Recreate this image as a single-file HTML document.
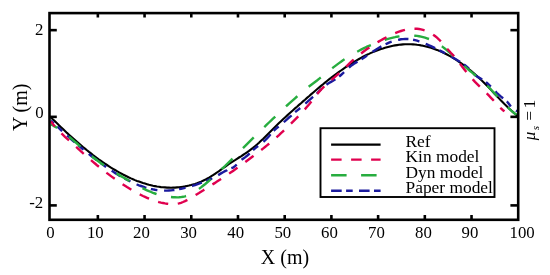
<!DOCTYPE html>
<html><head><meta charset="utf-8"><title>Trajectory comparison</title>
<style>html,body{margin:0;padding:0;background:#fff;}svg{display:block;}text{font-family:"Liberation Serif","Times New Roman",serif;fill:#000;}</style>
</head><body>
<svg width="550" height="275" viewBox="0 0 550 275">
<path d="M51.0,117.4 L53.0,119.4 L55.0,121.3 L57.0,123.3 L59.0,125.3 L61.0,127.2 L63.0,129.1 L65.0,131.0 L67.0,132.9 L69.0,134.7 L71.0,136.5 L73.0,138.3 L75.0,140.1 L77.0,141.9 L79.0,143.6 L81.0,145.3 L83.0,147.0 L85.0,148.6 L87.0,150.3 L89.0,151.9 L91.0,153.4 L93.0,155.0 L95.0,156.5 L97.0,158.0 L99.0,159.5 L101.0,160.9 L103.0,162.3 L105.0,163.7 L107.0,165.0 L109.0,166.3 L111.0,167.6 L113.0,168.8 L115.0,170.0 L117.0,171.2 L119.0,172.3 L121.0,173.4 L123.0,174.5 L125.0,175.5 L127.0,176.5 L129.0,177.5 L131.0,178.4 L133.0,179.2 L135.0,180.1 L137.0,180.9 L139.0,181.6 L141.0,182.3 L143.0,183.0 L145.0,183.6 L147.0,184.2 L149.0,184.8 L151.0,185.2 L153.0,185.7 L155.0,186.1 L157.0,186.5 L159.0,186.8 L161.0,187.1 L163.0,187.3 L165.0,187.4 L167.0,187.6 L169.0,187.6 L171.0,187.7 L173.0,187.6 L175.0,187.6 L177.0,187.4 L179.0,187.3 L181.0,187.0 L183.0,186.7 L185.0,186.4 L187.0,186.0 L189.0,185.6 L191.0,185.1 L193.0,184.5 L195.0,183.9 L197.0,183.2 L199.0,182.4 L201.0,181.6 L203.0,180.7 L205.0,179.8 L207.0,178.7 L209.0,177.6 L211.0,176.4 L213.0,175.2 L215.0,173.8 L217.0,172.5 L219.0,171.1 L221.0,169.6 L223.0,168.2 L225.0,166.8 L227.0,165.4 L229.0,164.0 L231.0,162.6 L233.0,161.3 L235.0,160.1 L237.0,158.8 L239.0,157.5 L241.0,156.3 L243.0,155.0 L245.0,153.7 L247.0,152.3 L249.0,150.9 L251.0,149.4 L253.0,147.9 L255.0,146.2 L257.0,144.5 L259.0,142.7 L261.0,140.8 L263.0,138.9 L265.0,136.9 L267.0,134.9 L269.0,132.9 L271.0,130.9 L273.0,128.9 L275.0,126.9 L277.0,125.0 L279.0,123.1 L281.0,121.2 L283.0,119.3 L285.0,117.4 L287.0,115.6 L289.0,113.8 L291.0,112.0 L293.0,110.2 L295.0,108.4 L297.0,106.7 L299.0,104.9 L301.0,103.2 L303.0,101.4 L305.0,99.7 L307.0,97.9 L309.0,96.2 L311.0,94.4 L313.0,92.7 L315.0,91.0 L317.0,89.3 L319.0,87.6 L321.0,85.9 L323.0,84.3 L325.0,82.6 L327.0,81.0 L329.0,79.4 L331.0,77.9 L333.0,76.3 L335.0,74.8 L337.0,73.3 L339.0,71.9 L341.0,70.5 L343.0,69.1 L345.0,67.7 L347.0,66.4 L349.0,65.0 L351.0,63.8 L353.0,62.5 L355.0,61.3 L357.0,60.1 L359.0,59.0 L361.0,57.9 L363.0,56.8 L365.0,55.8 L367.0,54.8 L369.0,53.9 L371.0,52.9 L373.0,52.1 L375.0,51.2 L377.0,50.5 L379.0,49.7 L381.0,49.0 L383.0,48.4 L385.0,47.7 L387.0,47.2 L389.0,46.7 L391.0,46.2 L393.0,45.8 L395.0,45.4 L397.0,45.1 L399.0,44.8 L401.0,44.6 L403.0,44.4 L405.0,44.3 L407.0,44.2 L409.0,44.2 L411.0,44.3 L413.0,44.4 L415.0,44.5 L417.0,44.8 L419.0,45.0 L421.0,45.4 L423.0,45.7 L425.0,46.2 L427.0,46.7 L429.0,47.2 L431.0,47.8 L433.0,48.5 L435.0,49.2 L437.0,49.9 L439.0,50.8 L441.0,51.6 L443.0,52.5 L445.0,53.5 L447.0,54.5 L449.0,55.6 L451.0,56.7 L453.0,57.9 L455.0,59.2 L457.0,60.4 L459.0,61.8 L461.0,63.2 L463.0,64.6 L465.0,66.1 L467.0,67.6 L469.0,69.2 L471.0,70.9 L473.0,72.6 L475.0,74.3 L477.0,76.1 L479.0,77.9 L481.0,79.8 L483.0,81.8 L485.0,83.8 L487.0,85.8 L489.0,87.8 L491.0,89.9 L493.0,92.1 L495.0,94.2 L497.0,96.3 L499.0,98.4 L501.0,100.5 L503.0,102.5 L505.0,104.6 L507.0,106.5 L509.0,108.5 L511.0,110.3 L513.0,112.1 L515.0,113.8 L517.0,115.4 L518.0,116.2" fill="none" stroke="#000" stroke-width="2.1"/>
<path d="M51.0,120.6 L53.0,122.5 L55.0,124.4 L57.0,126.3 L59.0,128.2 L61.0,130.0 L63.0,131.8 L65.0,133.7 L67.0,135.5 L69.0,137.2 L71.0,139.0 L73.0,140.8 L75.0,142.5 L77.0,144.2 L79.0,145.9 L81.0,147.6 L83.0,149.2 L85.0,150.9 L87.0,152.5 L89.0,154.1 L91.0,155.7 L93.0,157.3 L95.0,158.8 L97.0,160.3 L99.0,161.8 L101.0,163.3 L103.0,164.8 L105.0,166.2 L107.0,167.6 L109.0,169.0 L111.0,170.3 L113.0,171.6 L115.0,172.9 L117.0,174.1 L119.0,175.4 L121.0,176.5 L123.0,177.7 L125.0,178.8 L127.0,179.8 L129.0,180.8 L131.0,181.8 L133.0,182.7 L135.0,183.6 L137.0,184.5 L139.0,185.3 L141.0,186.0 L143.0,186.7 L145.0,187.4 L147.0,188.0 L149.0,188.5 L151.0,189.0 L153.0,189.4 L155.0,189.8 L157.0,190.1 L159.0,190.3 L161.0,190.5 L163.0,190.6 L165.0,190.6 L167.0,190.6 L169.0,190.5 L171.0,190.4 L173.0,190.1 L175.0,189.9 L177.0,189.6 L179.0,189.2 L181.0,188.8 L183.0,188.3 L185.0,187.9 L187.0,187.4 L189.0,186.8 L191.0,186.3 L193.0,185.7 L195.0,185.1 L197.0,184.4 L199.0,183.7 L201.0,183.0 L203.0,182.2 L205.0,181.4 L207.0,180.6 L209.0,179.7 L211.0,178.8 L213.0,177.9 L215.0,176.9 L217.0,175.8 L219.0,174.6 L221.0,173.4 L223.0,172.2 L225.0,171.2 L227.0,170.3 L229.0,168.6 L231.0,168.2 L233.0,167.6 L235.0,166.2 L237.0,164.2 L239.0,162.1 L241.0,160.2 L243.0,158.8 L245.0,157.4 L247.0,155.8 L249.0,154.0 L251.0,152.1 L253.0,150.2 L255.0,148.4 L257.0,146.8 L259.0,145.3 L261.0,143.7 L263.0,142.1 L265.0,140.4 L267.0,138.4 L269.0,136.2 L271.0,133.7 L273.0,131.3 L275.0,129.5 L277.0,127.9 L279.0,126.2 L281.0,124.6 L283.0,122.8 L285.0,121.1 L287.0,119.3 L289.0,117.5 L291.0,115.8 L293.0,114.0 L295.0,112.3 L297.0,110.6 L299.0,109.0 L301.0,107.3 L303.0,105.6 L305.0,103.9 L307.0,102.2 L309.0,100.4 L311.0,98.6 L313.0,96.8 L315.0,95.1 L317.0,93.3 L319.0,91.4 L321.0,89.5 L323.0,87.7 L325.0,85.9 L327.0,84.3 L329.0,83.0 L331.0,81.9 L333.0,80.8 L335.0,79.6 L337.0,78.3 L339.0,76.8 L341.0,75.0 L343.0,73.2 L345.0,71.2 L347.0,69.3 L349.0,67.5 L351.0,65.8 L353.0,64.4 L355.0,63.1 L357.0,61.9 L359.0,60.7 L361.0,59.5 L363.0,58.2 L365.0,56.9 L367.0,55.6 L369.0,54.3 L371.0,52.9 L373.0,51.6 L375.0,50.3 L377.0,49.0 L379.0,47.8 L381.0,46.6 L383.0,45.5 L385.0,44.5 L387.0,43.6 L389.0,42.7 L391.0,41.9 L393.0,41.2 L395.0,40.6 L397.0,40.1 L399.0,39.7 L401.0,39.3 L403.0,39.1 L405.0,39.0 L407.0,39.0 L409.0,39.1 L411.0,39.3 L413.0,39.7 L415.0,40.1 L417.0,40.6 L419.0,41.3 L421.0,41.9 L423.0,42.7 L425.0,43.5 L427.0,44.4 L429.0,45.3 L431.0,46.2 L433.0,47.1 L435.0,48.1 L437.0,49.1 L439.0,50.1 L441.0,51.1 L443.0,52.1 L445.0,53.2 L447.0,54.3 L449.0,55.4 L451.0,56.5 L453.0,57.6 L455.0,58.8 L457.0,60.0 L459.0,61.2 L461.0,62.5 L463.0,63.8 L465.0,65.3 L467.0,67.0 L469.0,68.8 L471.0,70.9 L473.0,73.0 L475.0,75.0 L477.0,76.5 L479.0,77.6 L481.0,78.7 L483.0,79.9 L485.0,81.3 L487.0,83.0 L489.0,84.8 L491.0,86.8 L493.0,88.9 L495.0,91.0 L497.0,93.0 L499.0,94.9 L501.0,96.7 L503.0,98.3 L505.0,99.8 L507.0,101.5 L509.0,104.0 L511.0,106.8 L513.0,109.2 L515.0,110.3 L517.0,111.2 L517.2,111.6" fill="none" stroke="#1a1a9e" stroke-width="2.4" stroke-dasharray="10.4 4.7 6.6 6.7" stroke-dashoffset="6.4"/>
<path d="M51.0,124.4 L53.0,125.4 L55.0,126.6 L57.0,127.8 L59.0,129.1 L61.0,130.5 L63.0,132.0 L65.0,133.5 L67.0,135.1 L69.0,136.7 L71.0,138.4 L73.0,140.1 L75.0,141.8 L77.0,143.5 L79.0,145.3 L81.0,147.0 L83.0,148.8 L85.0,150.5 L87.0,152.2 L89.0,153.9 L91.0,155.6 L93.0,157.2 L95.0,158.7 L97.0,160.2 L99.0,161.7 L101.0,163.2 L103.0,164.6 L105.0,165.9 L107.0,167.3 L109.0,168.6 L111.0,169.9 L113.0,171.2 L115.0,172.4 L117.0,173.6 L119.0,174.9 L121.0,176.1 L123.0,177.3 L125.0,178.4 L127.0,179.6 L129.0,180.8 L131.0,182.0 L133.0,183.1 L135.0,184.2 L137.0,185.3 L139.0,186.4 L141.0,187.4 L143.0,188.4 L145.0,189.4 L147.0,190.3 L149.0,191.2 L151.0,192.0 L153.0,192.8 L155.0,193.5 L157.0,194.2 L159.0,194.7 L161.0,195.3 L163.0,195.7 L165.0,196.1 L167.0,196.5 L169.0,196.8 L171.0,197.0 L173.0,197.2 L175.0,197.3 L177.0,197.4 L179.0,197.3 L181.0,197.1 L183.0,196.8 L185.0,196.3 L187.0,195.7 L189.0,194.9 L191.0,193.9 L193.0,192.8 L195.0,191.6 L197.0,190.3 L199.0,188.9 L201.0,187.4 L203.0,185.8 L205.0,184.2 L207.0,182.5 L209.0,180.8 L211.0,179.0 L213.0,177.2 L215.0,175.4 L217.0,173.5 L219.0,171.7 L221.0,169.8 L223.0,167.9 L225.0,166.0 L227.0,164.0 L229.0,162.1 L231.0,160.2 L233.0,158.2 L235.0,156.2 L237.0,154.2 L239.0,152.3 L241.0,150.2 L243.0,148.2 L245.0,146.2 L247.0,144.2 L249.0,142.2 L251.0,140.2 L253.0,138.2 L255.0,136.2 L257.0,134.2 L259.0,132.2 L261.0,130.3 L263.0,128.3 L265.0,126.4 L267.0,124.4 L269.0,122.5 L271.0,120.6 L273.0,118.7 L275.0,116.8 L277.0,114.9 L279.0,113.0 L281.0,111.1 L283.0,109.3 L285.0,107.4 L287.0,105.5 L289.0,103.7 L291.0,101.9 L293.0,100.1 L295.0,98.3 L297.0,96.5 L299.0,94.7 L301.0,93.0 L303.0,91.3 L305.0,89.7 L307.0,88.1 L309.0,86.5 L311.0,85.0 L313.0,83.5 L315.0,82.0 L317.0,80.5 L319.0,78.9 L321.0,77.4 L323.0,75.7 L325.0,74.1 L327.0,72.4 L329.0,70.8 L331.0,69.2 L333.0,67.6 L335.0,66.1 L337.0,64.6 L339.0,63.1 L341.0,61.7 L343.0,60.3 L345.0,59.0 L347.0,57.7 L349.0,56.4 L351.0,55.2 L353.0,54.0 L355.0,52.9 L357.0,51.8 L359.0,50.7 L361.0,49.6 L363.0,48.6 L365.0,47.7 L367.0,46.7 L369.0,45.8 L371.0,45.0 L373.0,44.1 L375.0,43.3 L377.0,42.6 L379.0,41.8 L381.0,41.1 L383.0,40.5 L385.0,39.8 L387.0,39.2 L389.0,38.6 L391.0,38.1 L393.0,37.6 L395.0,37.2 L397.0,36.7 L399.0,36.4 L401.0,36.1 L403.0,35.8 L405.0,35.6 L407.0,35.5 L409.0,35.4 L411.0,35.4 L413.0,35.5 L415.0,35.7 L417.0,35.9 L419.0,36.2 L421.0,36.6 L423.0,37.1 L425.0,37.6 L427.0,38.3 L429.0,39.0 L431.0,39.9 L433.0,40.8 L435.0,41.9 L437.0,43.1 L439.0,44.3 L441.0,45.7 L443.0,47.1 L445.0,48.7 L447.0,50.4 L449.0,52.1 L451.0,53.9 L453.0,55.7 L455.0,57.6 L457.0,59.4 L459.0,61.3 L461.0,63.1 L463.0,65.0 L465.0,66.7 L467.0,68.4 L469.0,70.1 L471.0,71.7 L473.0,73.4 L475.0,75.0 L477.0,76.6 L479.0,78.3 L481.0,80.0 L483.0,81.8 L485.0,83.6 L487.0,85.5 L489.0,87.5 L491.0,89.5 L493.0,91.7 L495.0,93.8 L497.0,96.0 L499.0,98.2 L501.0,100.3 L503.0,102.5 L505.0,104.6 L507.0,106.6 L509.0,108.5 L511.0,110.4 L513.0,112.1 L515.0,113.7 L516.5,114.8" fill="none" stroke="#27ad3f" stroke-width="2.4" stroke-dasharray="15.2 14.8" stroke-dashoffset="8.1"/>
<path d="M51.0,121.5 L53.0,124.2 L55.0,126.6 L57.0,128.9 L59.0,131.0 L61.0,133.0 L63.0,134.9 L65.0,136.8 L67.0,138.6 L69.0,140.4 L71.0,142.2 L73.0,144.0 L75.0,145.9 L77.0,147.7 L79.0,149.5 L81.0,151.4 L83.0,153.2 L85.0,154.9 L87.0,156.7 L89.0,158.4 L91.0,160.1 L93.0,161.8 L95.0,163.5 L97.0,165.2 L99.0,166.8 L101.0,168.4 L103.0,170.0 L105.0,171.5 L107.0,173.1 L109.0,174.6 L111.0,176.1 L113.0,177.6 L115.0,179.0 L117.0,180.4 L119.0,181.8 L121.0,183.2 L123.0,184.5 L125.0,185.8 L127.0,187.1 L129.0,188.3 L131.0,189.5 L133.0,190.7 L135.0,191.8 L137.0,192.9 L139.0,194.0 L141.0,195.0 L143.0,196.0 L145.0,196.9 L147.0,197.8 L149.0,198.7 L151.0,199.5 L153.0,200.2 L155.0,200.9 L157.0,201.5 L159.0,202.1 L161.0,202.6 L163.0,203.0 L165.0,203.4 L167.0,203.7 L169.0,204.0 L171.0,204.1 L173.0,204.2 L175.0,204.1 L177.0,203.8 L179.0,203.4 L181.0,202.8 L183.0,202.0 L185.0,201.1 L187.0,200.1 L189.0,199.0 L191.0,197.9 L193.0,196.7 L195.0,195.5 L197.0,194.2 L199.0,193.0 L201.0,191.7 L203.0,190.5 L205.0,189.2 L207.0,187.9 L209.0,186.7 L211.0,185.4 L213.0,184.1 L215.0,182.9 L217.0,181.6 L219.0,180.3 L221.0,179.0 L223.0,177.7 L225.0,176.4 L227.0,175.0 L229.0,173.7 L231.0,172.3 L233.0,170.9 L235.0,169.5 L237.0,168.1 L239.0,166.7 L241.0,165.2 L243.0,163.8 L245.0,162.3 L247.0,160.8 L249.0,159.3 L251.0,157.8 L253.0,156.3 L255.0,154.8 L257.0,153.2 L259.0,151.7 L261.0,150.2 L263.0,148.6 L265.0,147.0 L267.0,145.4 L269.0,143.8 L271.0,142.2 L273.0,140.4 L275.0,138.7 L277.0,136.9 L279.0,135.1 L281.0,133.2 L283.0,131.3 L285.0,129.4 L287.0,127.5 L289.0,125.6 L291.0,123.7 L293.0,121.7 L295.0,119.7 L297.0,117.7 L299.0,115.7 L301.0,113.5 L303.0,111.4 L305.0,109.1 L307.0,106.8 L309.0,104.5 L311.0,102.0 L313.0,99.4 L315.0,96.8 L317.0,94.2 L319.0,91.9 L321.0,89.7 L323.0,87.6 L325.0,85.7 L327.0,83.8 L329.0,82.1 L331.0,80.3 L333.0,78.6 L335.0,76.9 L337.0,75.2 L339.0,73.4 L341.0,71.6 L343.0,69.7 L345.0,67.8 L347.0,65.8 L349.0,63.9 L351.0,62.0 L353.0,60.2 L355.0,58.5 L357.0,56.8 L359.0,55.1 L361.0,53.6 L363.0,52.0 L365.0,50.5 L367.0,49.1 L369.0,47.7 L371.0,46.4 L373.0,45.1 L375.0,43.8 L377.0,42.6 L379.0,41.4 L381.0,40.2 L383.0,39.1 L385.0,38.0 L387.0,37.0 L389.0,36.0 L391.0,35.0 L393.0,34.1 L395.0,33.2 L397.0,32.4 L399.0,31.7 L401.0,31.0 L403.0,30.4 L405.0,29.8 L407.0,29.4 L409.0,29.1 L411.0,28.8 L413.0,28.7 L415.0,28.7 L417.0,28.8 L419.0,29.0 L421.0,29.4 L423.0,29.9 L425.0,30.5 L427.0,31.3 L429.0,32.2 L431.0,33.3 L433.0,34.6 L435.0,36.0 L437.0,37.7 L439.0,39.5 L441.0,41.6 L443.0,43.9 L445.0,46.3 L447.0,48.6 L449.0,50.8 L451.0,53.0 L453.0,55.1 L455.0,57.4 L457.0,59.9 L459.0,62.4 L461.0,65.1 L463.0,67.7 L465.0,70.3 L467.0,72.8 L469.0,75.2 L471.0,77.4 L473.0,79.6 L475.0,81.8 L477.0,83.8 L479.0,85.8 L481.0,87.8 L483.0,89.8 L485.0,91.8 L487.0,93.7 L489.0,95.7 L491.0,97.8 L493.0,99.9 L495.0,102.0 L497.0,104.2 L499.0,106.4 L501.0,108.4 L503.0,110.2 L504.5,111.3" fill="none" stroke="#e0004e" stroke-width="2.4" stroke-dasharray="10.3 9.6" stroke-dashoffset="4.0"/>
<rect x="49.5" y="13.1" width="468.70000000000005" height="206.70000000000002" fill="none" stroke="#000" stroke-width="2.6"/>
<line x1="97.85" y1="219.8" x2="97.85" y2="215" stroke="#000" stroke-width="2.6"/>
<line x1="97.85" y1="13.1" x2="97.85" y2="17.5" stroke="#000" stroke-width="2.6"/>
<line x1="144.56" y1="219.8" x2="144.56" y2="215" stroke="#000" stroke-width="2.6"/>
<line x1="144.56" y1="13.1" x2="144.56" y2="17.5" stroke="#000" stroke-width="2.6"/>
<line x1="191.27" y1="219.8" x2="191.27" y2="215" stroke="#000" stroke-width="2.6"/>
<line x1="191.27" y1="13.1" x2="191.27" y2="17.5" stroke="#000" stroke-width="2.6"/>
<line x1="237.98" y1="219.8" x2="237.98" y2="215" stroke="#000" stroke-width="2.6"/>
<line x1="237.98" y1="13.1" x2="237.98" y2="17.5" stroke="#000" stroke-width="2.6"/>
<line x1="284.69" y1="219.8" x2="284.69" y2="215" stroke="#000" stroke-width="2.6"/>
<line x1="284.69" y1="13.1" x2="284.69" y2="17.5" stroke="#000" stroke-width="2.6"/>
<line x1="331.40" y1="219.8" x2="331.40" y2="215" stroke="#000" stroke-width="2.6"/>
<line x1="331.40" y1="13.1" x2="331.40" y2="17.5" stroke="#000" stroke-width="2.6"/>
<line x1="378.11" y1="219.8" x2="378.11" y2="215" stroke="#000" stroke-width="2.6"/>
<line x1="378.11" y1="13.1" x2="378.11" y2="17.5" stroke="#000" stroke-width="2.6"/>
<line x1="424.82" y1="219.8" x2="424.82" y2="215" stroke="#000" stroke-width="2.6"/>
<line x1="424.82" y1="13.1" x2="424.82" y2="17.5" stroke="#000" stroke-width="2.6"/>
<line x1="471.53" y1="219.8" x2="471.53" y2="215" stroke="#000" stroke-width="2.6"/>
<line x1="471.53" y1="13.1" x2="471.53" y2="17.5" stroke="#000" stroke-width="2.6"/>
<line x1="49.5" y1="30.15" x2="56.8" y2="30.15" stroke="#000" stroke-width="2.6"/>
<line x1="518.2" y1="30.15" x2="510.4" y2="30.15" stroke="#000" stroke-width="2.6"/>
<line x1="49.5" y1="116.85" x2="56.8" y2="116.85" stroke="#000" stroke-width="2.6"/>
<line x1="518.2" y1="116.85" x2="510.4" y2="116.85" stroke="#000" stroke-width="2.6"/>
<line x1="49.5" y1="205.4" x2="56.8" y2="205.4" stroke="#000" stroke-width="2.6"/>
<line x1="518.2" y1="205.4" x2="510.4" y2="205.4" stroke="#000" stroke-width="2.6"/>
<text x="50.45" y="238"  font-size="16.8" text-anchor="middle">0</text>
<text x="95.35" y="238"  font-size="16.8" text-anchor="middle">10</text>
<text x="141.40" y="238"  font-size="16.8" text-anchor="middle">20</text>
<text x="188.60" y="238"  font-size="16.8" text-anchor="middle">30</text>
<text x="235.65" y="238"  font-size="16.8" text-anchor="middle">40</text>
<text x="282.80" y="238"  font-size="16.8" text-anchor="middle">50</text>
<text x="329.40" y="238"  font-size="16.8" text-anchor="middle">60</text>
<text x="376.50" y="238"  font-size="16.8" text-anchor="middle">70</text>
<text x="423.40" y="238"  font-size="16.8" text-anchor="middle">80</text>
<text x="470.00" y="238"  font-size="16.8" text-anchor="middle">90</text>
<text x="522.10" y="238"  font-size="16.8" text-anchor="middle">100</text>
<text x="43.3" y="35.4"  font-size="16.8" text-anchor="end">2</text>
<text x="43.6" y="118.0"  font-size="16.8" text-anchor="end">0</text>
<text x="43.2" y="208.0"  font-size="16.8" text-anchor="end">-2</text>
<text x="285" y="263.6"  font-size="20" text-anchor="middle">X (m)</text>
<text transform="translate(27,107.3) rotate(-90)"  font-size="20" text-anchor="middle">Y (m)</text>
<text transform="translate(535.4,104.2) rotate(-90)"  font-size="17.6" text-anchor="middle">1</text>
<text transform="translate(535.0,115.8) rotate(-90)"  font-size="17" text-anchor="middle">=</text>
<text transform="translate(539.3,128.2) rotate(-90)"  font-size="11" text-anchor="middle" font-style="italic">s</text>
<text transform="translate(535.0,136.0) rotate(-90)"  font-size="17" text-anchor="middle" font-style="italic">μ</text>
<rect x="320.5" y="128.2" width="174" height="68.8" fill="#fff" stroke="#000" stroke-width="1.9"/>
<line x1="331.1" y1="144.6" x2="380.6" y2="144.6" stroke="#000" stroke-width="2.4"/>
<line x1="331.1" y1="159.6" x2="380.6" y2="159.6" stroke="#e0004e" stroke-width="2.4" stroke-dasharray="10.5 9.5"/>
<line x1="331.1" y1="175.2" x2="380.6" y2="175.2" stroke="#27ad3f" stroke-width="2.4" stroke-dasharray="15.5 14.5"/>
<line x1="331.1" y1="190.7" x2="380.6" y2="190.7" stroke="#1a1a9e" stroke-width="2.4" stroke-dasharray="10.6 4.4 6.6 6.3"/>
<text x="405.5" y="146.9"  font-size="17.4">Ref</text>
<text x="405.5" y="162.4"  font-size="17.4">Kin model</text>
<text x="405.5" y="178.0"  font-size="17.4">Dyn model</text>
<text x="405.5" y="193.4"  font-size="17.4">Paper model</text>
</svg>
</body></html>
